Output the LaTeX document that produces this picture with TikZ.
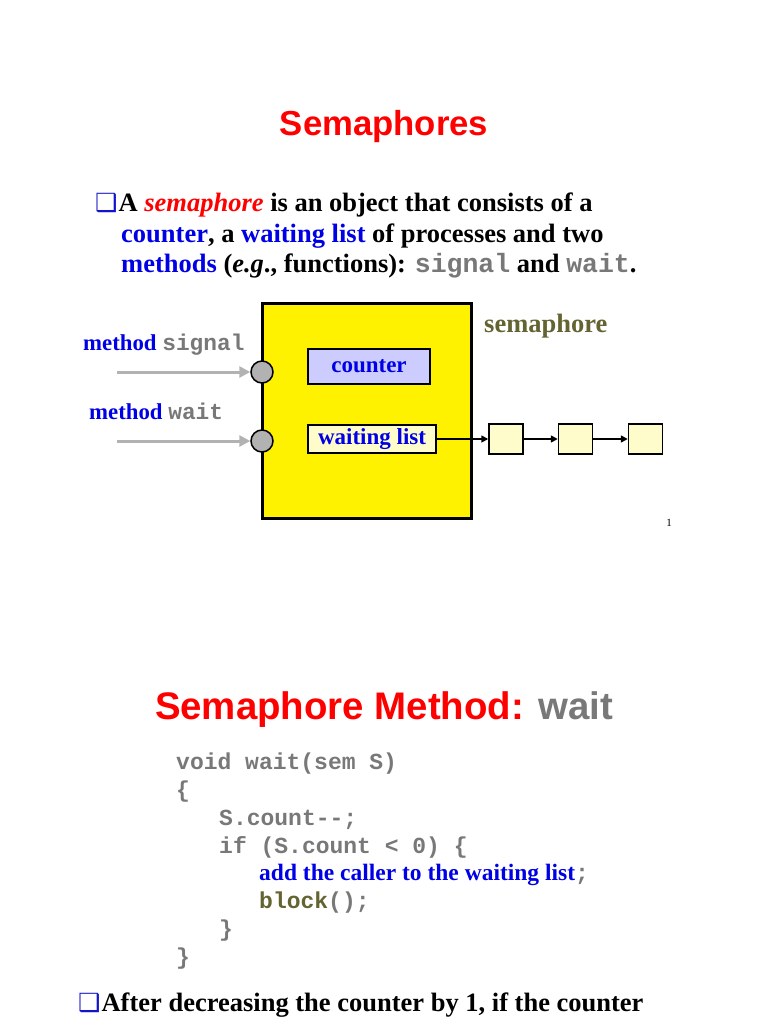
\documentclass[tikz,border=0pt]{standalone}
\usepackage{fontspec}
\setmainfont{Liberation Serif}
\setsansfont{Liberation Sans}
\setmonofont{Liberation Mono}
\newfontfamily\dejavu{DejaVu Sans}
\usetikzlibrary{arrows.meta}
\definecolor{tred}{RGB}{255,0,0}
\definecolor{tblue}{RGB}{0,0,230}
\definecolor{tgray}{RGB}{120,120,120}
\definecolor{tolive}{RGB}{100,100,50}
\definecolor{bul}{RGB}{20,20,200}
\newcommand{\bx}{{\dejavu\color{bul}\fontsize{25}{25}\selectfont ❑}}
\newcommand{\cd}[1]{{\ttfamily\bfseries\color{tgray}#1}}
\begin{document}
\begin{tikzpicture}[x=1pt,y=-1pt,
  txt/.style={inner sep=0,anchor=base west,font=\fontsize{26.5}{26.5}\selectfont\bfseries},
  code/.style={inner sep=0,anchor=base west,font=\fontsize{23}{23}\selectfont\ttfamily\bfseries,text=tgray},
  inbox/.style={draw,line width=1.5pt,inner sep=0,font=\fontsize{23}{23}\selectfont\bfseries,text=tblue},
  item/.style={draw,line width=1.5pt,fill=yellow!20,minimum width=34pt,minimum height=30pt,inner sep=0},
  port/.style={circle,draw,line width=1.5pt,fill=gray!60,minimum size=22pt,inner sep=0},
  garrow/.style={draw=gray!60,line width=3pt,-{Triangle[length=11pt,width=11pt]}},
  larrow/.style={line width=1.6pt,-{Triangle[length=7pt,width=7pt]}}]
\useasboundingbox (0,0) rectangle (768,1024);
\node[inner sep=0,font=\fontsize{34.7}{34.7}\selectfont\sffamily\bfseries,text=tred] (t1) at (384,127) {Semaphores};
\node[txt] (b1) at (95,212) {\bx\hspace{1pt}A \textcolor{tred}{\itshape semaphore} is an object that consists of a};
\node[txt] (b2) at (121,242) {\textcolor{tblue}{counter}, a \textcolor{tblue}{waiting list} of processes and two};
\node[txt] (b3) at (121,272) {\textcolor{tblue}{methods} (\textit{e.g}., functions): \cd{signal} and \cd{wait}.};
\draw[line width=3pt,fill=yellow] (262,303) rectangle (471,518);
\node[inbox,fill=blue!20,minimum width=122pt,minimum height=35pt] (cnt) at (369,366.5) {counter};
\node[inbox,fill=yellow!20,minimum width=128pt,minimum height=28pt] (wl) at (372,439) {waiting list};
\node[port] (p1) at (262,372) {};
\node[port] (p2) at (262,441) {};
\coordinate (s1) at (117,372);
\coordinate (s2) at (117,441);
\draw[garrow] (s1) -- (p1.west);
\draw[garrow] (s2) -- (p2.west);
\node[txt,font=\fontsize{22.8}{22.8}\selectfont\bfseries] (m1) at (83,350) {\textcolor{tblue}{method} \cd{signal}};
\node[txt,font=\fontsize{22.8}{22.8}\selectfont\bfseries] (m2) at (89,419) {\textcolor{tblue}{method} \cd{wait}};
\node[txt,text=tolive] (sl) at (484,332) {semaphore};
\node[item] (i1) at (506,439) {};
\node[item] (i2) at (575.5,439) {};
\node[item] (i3) at (645.5,439) {};
\draw[larrow] (wl.east) -- (i1.west);
\draw[larrow] (i1.east) -- (i2.west);
\draw[larrow] (i2.east) -- (i3.west);
\node[inner sep=0,font=\fontsize{11}{11}\selectfont] (pg) at (669,523) {1};
\node[inner sep=0,font=\fontsize{38.4}{38.4}\selectfont\sffamily\bfseries] (t2) at (384,710) {\textcolor{tred}{Semaphore Method:} \textcolor{tgray}{wait}};
\node[code] (c1) at (176,769) {void wait(sem S)};
\node[code] (c2) at (176,797) {\{};
\node[code] (c3) at (219,825) {S.count--;};
\node[code] (c4) at (219,853) {if (S.count < 0) \{};
\node[code] (c5) at (259,880) {\textcolor{tblue}{\rmfamily\fontsize{23.5}{23.5}\selectfont add the caller to the waiting list};};
\node[code] (c6) at (259,908) {\textcolor{tolive}{block}();};
\node[code] (c7) at (219,936) {\}};
\node[code] (c8) at (176,964) {\}};
\node[txt] (b4) at (78,1011) {\bx\hspace{1pt}After decreasing the counter by 1, if the counter};
\end{tikzpicture}
\end{document}
